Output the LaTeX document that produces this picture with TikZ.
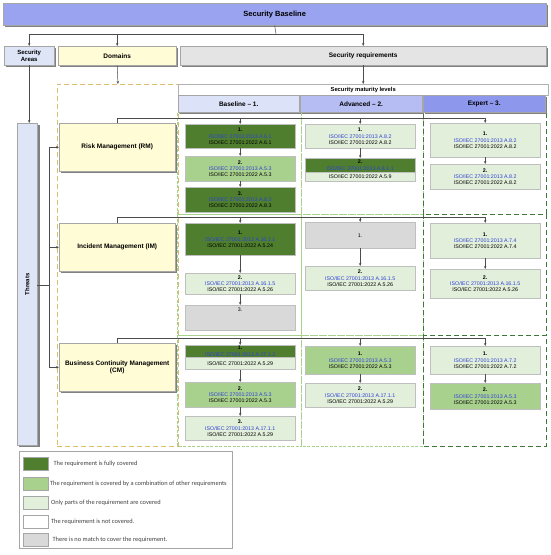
\documentclass[tikz,border=0pt]{standalone}
\usepackage{fontspec}
\setmainfont{Liberation Sans}
\newfontfamily\legendfont{Carlito}
\usetikzlibrary{calc, shapes, shadows, positioning, arrows.meta}

\definecolor{baseblue}{HTML}{99A3F0}
\definecolor{areablue}{HTML}{DDE5F7}
\definecolor{domyellow}{HTML}{FFFCD6}
\definecolor{reqgray}{HTML}{E4E4E4}
\definecolor{lvlone}{HTML}{DCE2F8}
\definecolor{lvltwo}{HTML}{B5BDF3}
\definecolor{lvlthree}{HTML}{8D97EC}
\definecolor{fullgreen}{HTML}{4F7F2E}
\definecolor{combgreen}{HTML}{A9D18E}
\definecolor{partgreen}{HTML}{E2EFDA}
\definecolor{nomatch}{HTML}{D9D9D9}
\definecolor{isoblue}{HTML}{2F3FD6}
\definecolor{domdash}{HTML}{D8BD6A}
\definecolor{lightdash}{HTML}{A9D18E}
\definecolor{darkdash}{HTML}{3D7A3A}

\begin{document}
\begin{tikzpicture}[x=1pt, y=-1pt]

    \tikzstyle{bevel}=[draw=black!35, drop shadow={shadow xshift=1.5pt, shadow yshift=-1.5pt, fill=black!50, opacity=1}, inner sep=1pt, align=center, anchor=north west, font=\bfseries\fontsize{6.5}{7.5}\selectfont];
    \tikzstyle{cell}=[draw=black!25, anchor=north west, minimum width=110, inner sep=0.3pt, align=center, font=\fontsize{5.3}{6.3}\selectfont];
    \tikzstyle{link}=[draw=black!70, line width=0.5pt];
    \tikzstyle{arr}=[link, -{Stealth[length=3pt, width=2.4pt]}];
    \tikzstyle{lightframe}=[draw=lightdash, line width=0.9pt, dash pattern=on 3pt off 1.5pt];
    \tikzstyle{darkframe}=[draw=darkdash, line width=0.9pt, dash pattern=on 5pt off 3pt];
    \tikzstyle{key}=[draw=black!35, anchor=north west, minimum width=25, minimum height=13, inner sep=0];
    \tikzstyle{keytext}=[inner sep=0, text=black!75, font=\legendfont\fontsize{6.4}{7.5}\selectfont];

    \useasboundingbox (0,0) rectangle (550,555);

    % header rows
    \node[bevel, fill=baseblue, minimum width=543, minimum height=22, font=\bfseries\fontsize{7.5}{9}\selectfont] (sb) at (3,3) {Security Baseline};
    \node[bevel, fill=areablue, minimum width=50, minimum height=19, font=\bfseries\fontsize{6}{7}\selectfont] (areas) at (4,46) {Security\\Areas};
    \node[bevel, fill=domyellow, minimum width=118, minimum height=19] (dom) at (58,46) {Domains};
    \node[bevel, fill=reqgray, minimum width=366, minimum height=19] (req) at (180,46) {Security requirements};

    \coordinate (hub) at (276,34);
    \draw[link] (sb.south) -- (hub);
    \draw[arr] (hub) -| (areas.north);
    \draw[arr] (hub) -| (dom.north);
    \draw[arr] (hub) -| (req.north);

    % frames
    \node[draw=domdash, line width=0.9pt, dash pattern=on 5pt off 3pt, anchor=north west, minimum width=121, minimum height=362, inner sep=0] (domframe) at (57,84) {};
    \draw[arr] (dom.south) -- (domframe.north);

    \draw[lightframe] (177,113) rectangle (301,214);
    \draw[lightframe] (177,214) rectangle (301,335);
    \draw[lightframe] (177,335) rectangle (301,446);
    \draw[lightframe] (301,113) rectangle (423,214);
    \draw[lightframe] (301,214) rectangle (423,335);
    \draw[lightframe] (301,335) rectangle (423,446);
    \draw[darkframe] (423,113) rectangle (546,214);
    \draw[darkframe] (423,214) rectangle (546,335);
    \draw[darkframe] (423,335) rectangle (546,446);

    \node[draw=black!30, fill=white, anchor=north west, minimum width=370, minimum height=11, inner sep=0, font=\bfseries\fontsize{5.8}{6.5}\selectfont] (sml) at (178,84) {Security maturity levels};
    \draw[arr] (req.south) -- (sml.north);

    \node[bevel, fill=lvlone, minimum width=121, minimum height=17] (lvl1) at (178,95) {Baseline -- 1.};
    \node[bevel, fill=lvltwo, minimum width=122, minimum height=17] (lvl2) at (300,95) {Advanced -- 2.};
    \node[bevel, fill=lvlthree, minimum width=122, minimum height=17] (lvl3) at (423,95) {Expert -- 3.};

    % threats and domains
    \node[bevel, fill=areablue, minimum width=20, minimum height=322, drop shadow={shadow xshift=2.5pt, shadow yshift=-1.5pt, fill=black!50, opacity=1}] (threats) at (17,123) {};
    \node[rotate=90, font=\bfseries\fontsize{6}{7}\selectfont] (threatstxt) at (threats.center) {Threats};
    \draw[arr] (areas.south) -- (areas.south |- threats.north);

    \node[bevel, fill=domyellow, minimum width=116, minimum height=48] (rm) at (59,123) {Risk Management (RM)};
    \node[bevel, fill=domyellow, minimum width=116, minimum height=48] (im) at (59,223) {Incident Management (IM)};
    \node[bevel, fill=domyellow, minimum width=116, minimum height=48] (cm) at (59,343) {Business Continuity Management\\(CM)};

    \coordinate (tj) at (49,285);
    \draw[link] (threats.east |- tj) -- (tj);
    \draw[link] (tj |- rm.west) -- (tj |- cm.west);
    \draw[arr] (tj |- rm.west) -- (rm.west);
    \draw[arr] (tj |- im.west) -- (im.west);
    \draw[arr] (tj |- cm.west) -- (cm.west);

    % risk management
    \node[cell, fill=fullgreen, minimum height=24] (b11) at (185,124) {\textbf{1.}\\\textcolor{isoblue}{ISO/IEC 27001:2013 A.6.1}\\ISO/IEC 27001:2022 A.6.1};
    \node[cell, fill=combgreen, minimum height=25] (b12) at (185,156) {\textbf{2.}\\\textcolor{isoblue}{ISO/IEC 27001:2013 A.5.3}\\ISO/IEC 27001:2022 A.5.3};
    \node[cell, fill=fullgreen, minimum height=25] (b13) at (185,187) {\textbf{3.}\\\textcolor{isoblue}{ISO/IEC 27001:2013 A.8.3}\\ISO/IEC 27001:2022 A.8.3};

    \node[cell, fill=partgreen, minimum height=24] (a11) at (305,124) {\textbf{1.}\\\textcolor{isoblue}{ISO/IEC 27001:2013 A.8.2}\\ISO/IEC 27001:2022 A.8.2};
    \node[cell, fill=fullgreen, minimum height=14] (a12) at (305,158) {\textbf{2.}\\\textcolor{isoblue}{ISO/IEC 27001:2013 A.8.1.1}};
    \node[cell, fill=partgreen, minimum height=9, anchor=north] (a12b) at (a12.south) {ISO/IEC 27001:2022 A.5.9};

    \node[cell, fill=partgreen, minimum height=34] (e11) at (430,123) {\textbf{1.}\\\textcolor{isoblue}{ISO/IEC 27001:2013 A.8.2}\\ISO/IEC 27001:2022 A.8.2};
    \node[cell, fill=partgreen, minimum height=25] (e12) at (430,164) {\textbf{2.}\\\textcolor{isoblue}{ISO/IEC 27001:2013 A.8.2}\\ISO/IEC 27001:2022 A.8.2};

    % incident management
    \node[cell, fill=fullgreen, minimum height=32] (b21) at (185,223) {\textbf{1.}\\\textcolor{isoblue}{ISO/IEC 27001:2013 A.16.1.1}\\ISO/IEC 27001:2022 A.5.24};
    \node[cell, fill=partgreen, minimum height=21] (b22) at (185,273) {\textbf{2.}\\\textcolor{isoblue}{ISO/IEC 27001:2013 A.16.1.5}\\ISO/IEC 27001:2022 A.5.26};
    \node[cell, fill=nomatch, minimum height=25] (b23) at (185,305) {};
    \node[font=\fontsize{5.3}{6}\selectfont, anchor=north, inner sep=0] (b23txt) at ($(b23.north)+(0,3)$) {3.};

    \node[cell, fill=nomatch, minimum height=26] (a21) at (305,222) {1.};
    \node[cell, fill=partgreen, minimum height=24] (a22) at (305,266) {\textbf{2.}\\\textcolor{isoblue}{ISO/IEC 27001:2013 A.16.1.5}\\ISO/IEC 27001:2022 A.5.26};

    \node[cell, fill=partgreen, minimum height=35] (e21) at (430,223) {\textbf{1.}\\\textcolor{isoblue}{ISO/IEC 27001:2013 A.7.4}\\ISO/IEC 27001:2022 A.7.4};
    \node[cell, fill=partgreen, minimum height=29] (e22) at (430,269) {\textbf{2.}\\\textcolor{isoblue}{ISO/IEC 27001:2013 A.16.1.5}\\ISO/IEC 27001:2022 A.5.26};

    % business continuity management
    \node[cell, fill=fullgreen, minimum height=12] (b31) at (185,345) {\textbf{1.}\\\textcolor{isoblue}{ISO/IEC 27001:2013 A.17.1.2}};
    \node[cell, fill=partgreen, minimum height=12, anchor=north] (b31b) at (b31.south) {ISO/IEC 27001:2022 A.5.29};
    \node[cell, fill=combgreen, minimum height=25] (b32) at (185,382) {\textbf{2.}\\\textcolor{isoblue}{ISO/IEC 27001:2013 A.5.3}\\ISO/IEC 27001:2022 A.5.3};
    \node[cell, fill=partgreen, minimum height=24] (b33) at (185,416) {\textbf{3.}\\\textcolor{isoblue}{ISO/IEC 27001:2013 A.17.1.1}\\ISO/IEC 27001:2022 A.5.29};

    \node[cell, fill=combgreen, minimum height=28] (a31) at (305,346) {\textbf{1.}\\\textcolor{isoblue}{ISO/IEC 27001:2013 A.5.3}\\ISO/IEC 27001:2022 A.5.3};
    \node[cell, fill=partgreen, minimum height=24] (a32) at (305,383) {\textbf{2.}\\\textcolor{isoblue}{ISO/IEC 27001:2013 A.17.1.1}\\ISO/IEC 27001:2022 A.5.29};

    \node[cell, fill=partgreen, minimum height=28] (e31) at (430,346) {\textbf{1.}\\\textcolor{isoblue}{ISO/IEC 27001:2013 A.7.2}\\ISO/IEC 27001:2022 A.7.2};
    \node[cell, fill=combgreen, minimum height=26] (e32) at (430,383) {\textbf{2.}\\\textcolor{isoblue}{ISO/IEC 27001:2013 A.5.3}\\ISO/IEC 27001:2022 A.5.3};

    % buses from the domains
    \coordinate (rmbus) at ($(rm.north)+(0,-5)$);
    \coordinate (imbus) at ($(im.north)+(0,-6)$);
    \coordinate (cmbus) at ($(cm.north)+(0,-5)$);
    \draw[link] (rm.north) -- (rmbus) -- (rmbus -| e11.north);
    \draw[link] (im.north) -- (imbus) -- (imbus -| e21.north);
    \draw[link] (cm.north) -- (cmbus) -- (cmbus -| e31.north);
    \draw[arr] (rmbus -| b11.north) -- (b11.north);
    \draw[arr] (rmbus -| a11.north) -- (a11.north);
    \draw[arr] (rmbus -| e11.north) -- (e11.north);
    \draw[arr] (imbus -| b21.north) -- (b21.north);
    \draw[arr] (imbus -| a21.north) -- (a21.north);
    \draw[arr] (imbus -| e21.north) -- (e21.north);
    \draw[arr] (cmbus -| b31.north) -- (b31.north);
    \draw[arr] (cmbus -| a31.north) -- (a31.north);
    \draw[arr] (cmbus -| e31.north) -- (e31.north);

    % steps inside the columns
    \draw[arr] (b11) -- (b12);
    \draw[arr] (b12) -- (b13);
    \draw[arr] (a11) -- (a12);
    \draw[arr] (e11) -- (e12);
    \draw[arr] (b21) -- (b22);
    \draw[arr] (b22) -- (b23);
    \draw[arr] (a21) -- (a22);
    \draw[arr] (e21) -- (e22);
    \draw[arr] (b31b) -- (b32);
    \draw[arr] (b32) -- (b33);
    \draw[arr] (a31) -- (a32);
    \draw[arr] (e31) -- (e32);

    % legend
    \node[draw=black!35, anchor=north west, minimum width=213, minimum height=97, inner sep=0] (legend) at (19,451) {};
    \node[key, fill=fullgreen] (k1) at (23,457) {};
    \node[key, fill=combgreen] (k2) at (23,477) {};
    \node[key, fill=partgreen] (k3) at (23,496) {};
    \node[key, fill=white] (k4) at (23,515) {};
    \node[key, fill=nomatch] (k5) at (23,533) {};
    \node[keytext, right=5pt of k1] (t1) {The requirement is fully covered};
    \node[keytext, right=1.5pt of k2] (t2) {The requirement is covered by a combination of other requirements};
    \node[keytext, right=2.5pt of k3] (t3) {Only parts of the requirement are covered};
    \node[keytext, right=2.5pt of k4] (t4) {The requirement is not covered.};
    \node[keytext, right=4pt of k5] (t5) {There is no match to cover the requirement.};

\end{tikzpicture}
\end{document}
